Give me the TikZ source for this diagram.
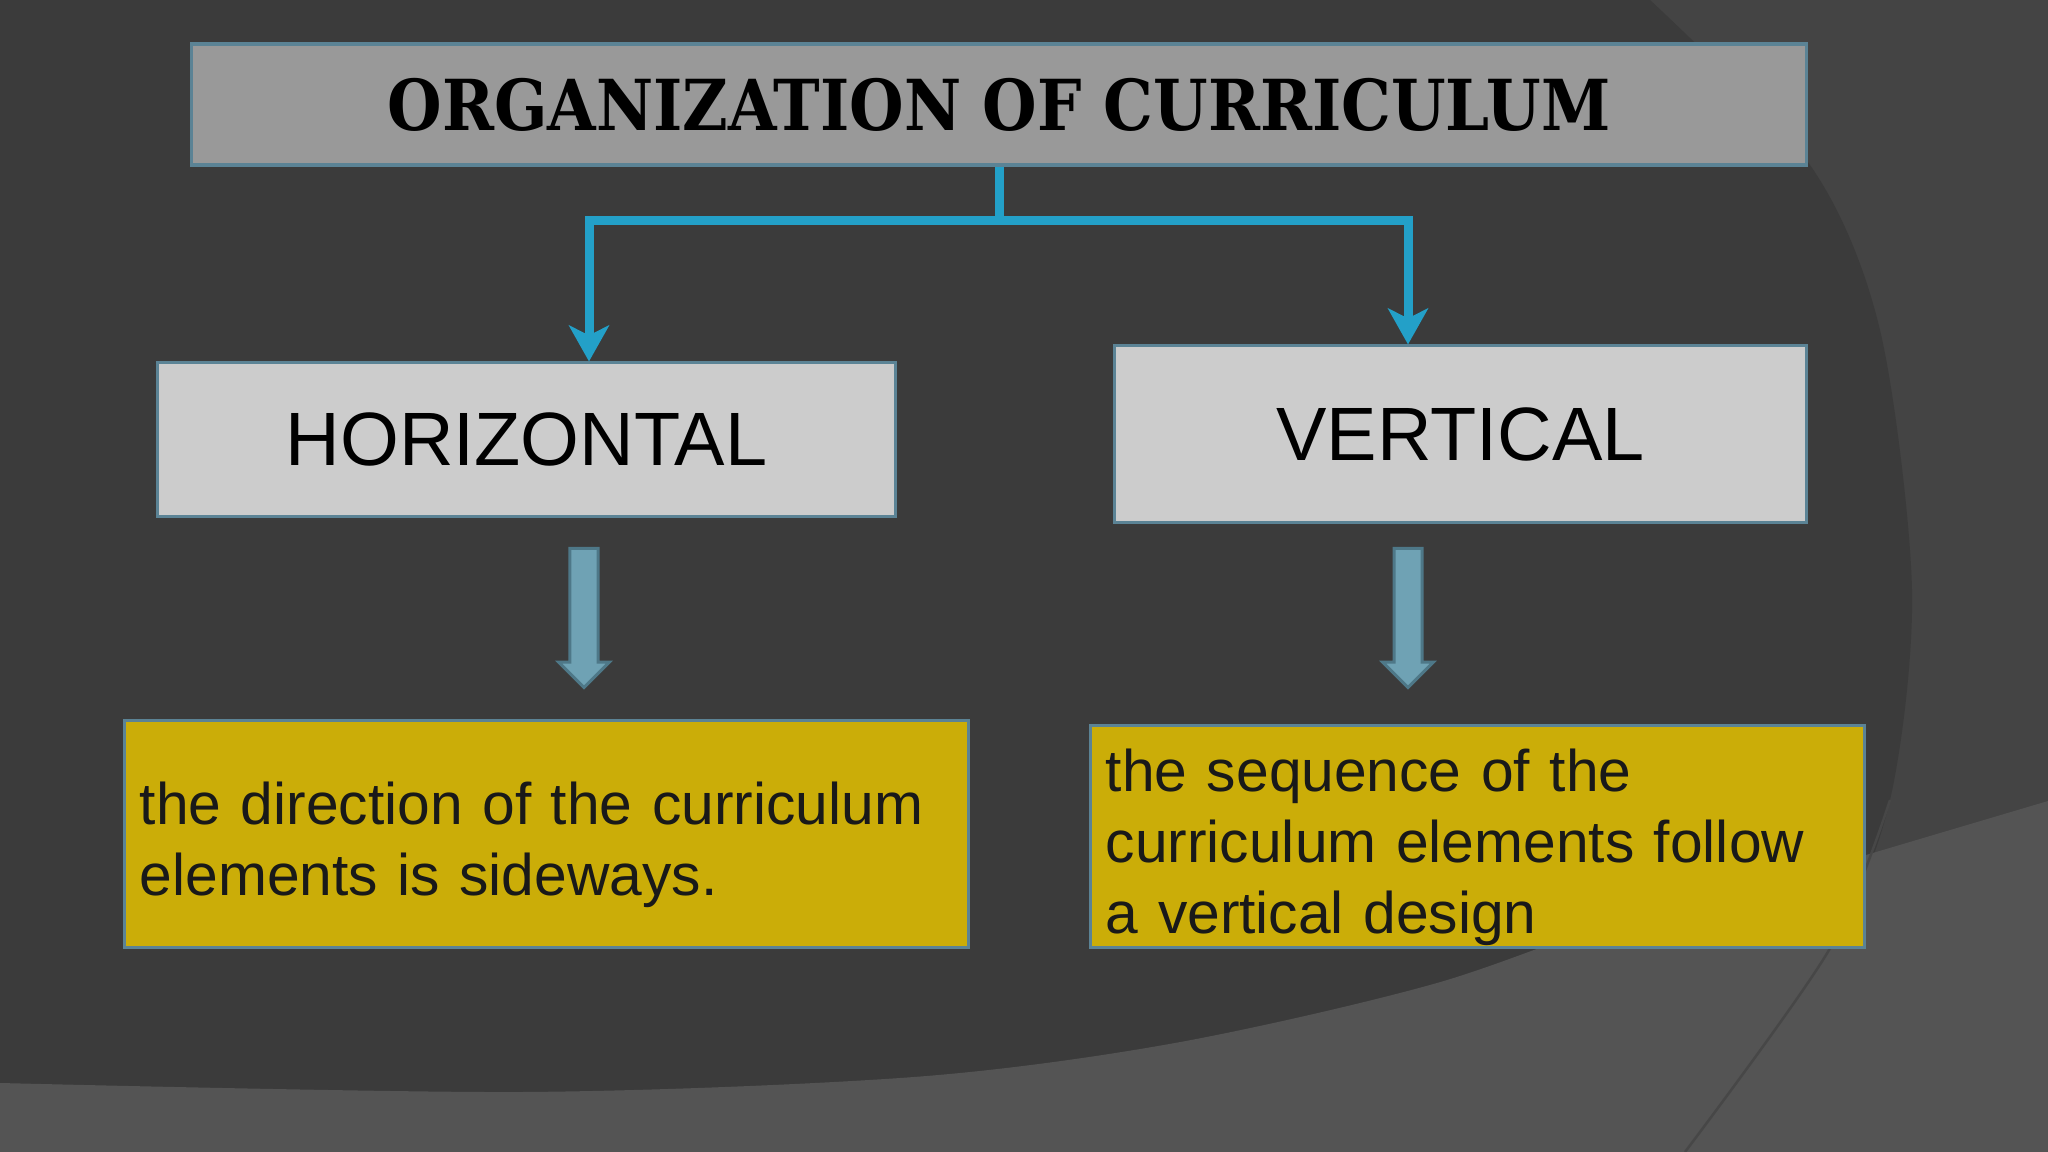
\documentclass[tikz,border=0pt]{standalone}
\usepackage{fontspec}
\setmainfont{Liberation Sans}
\newfontfamily\titlefont[FakeStretch=0.89]{DejaVu Serif}
\usetikzlibrary{shapes.arrows,arrows.meta,positioning,calc}
\definecolor{bgdark}{HTML}{3B3B3B}
\definecolor{bgside}{HTML}{444444}
\definecolor{bglight}{HTML}{545454}
\definecolor{edge}{HTML}{5B8395}
\definecolor{linkblue}{HTML}{23A0C8}
\definecolor{gold}{HTML}{CBAD08}
\definecolor{arrowfill}{HTML}{6FA2B4}
\definecolor{arrowedge}{HTML}{4E7888}
\tikzstyle{headbox} = [rectangle, draw=edge, line width=0.035cm, fill=black!40, inner sep=0pt]
\tikzstyle{kindbox} = [rectangle, draw=edge, line width=0.03cm, fill=black!20, inner sep=0pt, font=\fontsize{21.5pt}{26pt}\selectfont]
\tikzstyle{notebox} = [rectangle, draw=edge, line width=0.03cm, fill=gold, align=left, inner xsep=0.15cm, inner ysep=0pt, text=black!90, font=\fontsize{16.7pt}{20.2pt}\selectfont]
\tikzstyle{link} = [line width=0.09cm, draw=linkblue, -{Stealth[length=0.36cm,width=0.4cm,inset=0.1cm]}]
\tikzstyle{downarrow} = [single arrow, shape border rotate=270, draw=arrowedge, line width=0.03cm, fill=arrowfill, inner sep=0.125cm, minimum height=1.39cm, single arrow head extend=0.115cm]

\begin{document}
\begin{tikzpicture}[x=0.01cm, y=-0.01cm]
    \useasboundingbox (0,0) rectangle (2048,1152);
    % background
    \fill[bgside] (0,0) rectangle (2048,1152);
    \fill[bgdark] (0,0) -- plot[smooth] coordinates {(1650,0) (1810,165) (1880,330) (1912,590) (1890,800) (1829,950) (1685,1152)} -- (0,1152) -- cycle;
    \fill[bglight] plot[smooth] coordinates {(0,1083) (522,1092) (914,1077) (1175,1043) (1437,983) (1660,905) (1866,855)} -- (2048,801) -- (2048,1152) -- (0,1152) -- cycle;
    \draw[line width=0.025cm, black!72] plot[smooth] coordinates {(1890,800) (1829,950) (1685,1152)};

    \node[headbox, minimum width=16.14cm, minimum height=1.21cm, font=\titlefont\bfseries\fontsize{20pt}{24pt}\selectfont] (title) at (999,104.5) {ORGANIZATION OF CURRICULUM};
    \node[kindbox, minimum width=7.37cm, minimum height=1.53cm] (hor) at (526.5,439.5) {HORIZONTAL};
    \node[kindbox, minimum width=6.91cm, minimum height=1.76cm] (ver) at (1460.5,434) {VERTICAL};
    \node[notebox, text width=8.13cm, minimum height=2.26cm] (hornote) at (546.5,834) {\rule{0pt}{0.65cm}the direction of the curriculum\\elements is sideways.};
    \node[notebox, text width=7.43cm, minimum height=2.21cm] (vernote) at (1477.5,836.5) {\rule{0pt}{0.65cm}the sequence of the\\curriculum elements follow\\a vertical design};

    \draw[link] (title.south) -- ++(0,54) -| ($(hor.north)+(62.5,0)$);
    \draw[link] (title.south) -- ++(0,54) -| ($(ver.north)+(-52.5,0)$);
    \foreach \n/\x in {harrow/584, varrow/1408}
        \node[downarrow] (\n) at (\x,611) {};
\end{tikzpicture}
\end{document}
